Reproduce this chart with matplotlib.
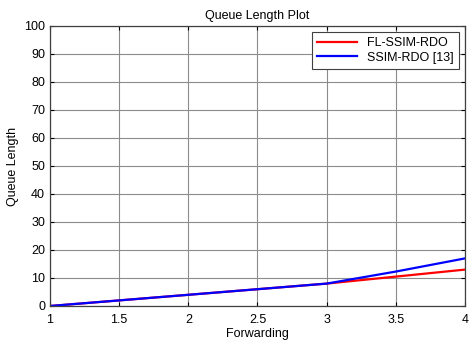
import matplotlib
matplotlib.use("Agg")
import matplotlib.pyplot as plt

# Data
forwarding = [1, 1.5, 2, 2.5, 3, 3.5, 4]
fl_ssim_rdo = [0, 2, 4, 6, 8, 10.5, 13]
ssim_rdo_13 = [0, 2, 4, 6, 8, 12.3, 17]

plt.rcParams['font.family'] = ['Liberation Sans', 'DejaVu Sans']

fig = plt.figure(figsize=(4.74, 3.45), dpi=100)
ax = fig.add_axes([50 / 474, 1 - 306 / 345, 415 / 474, 280 / 345])

ax.plot(forwarding, fl_ssim_rdo, color='#ff0000', lw=1.6, label='FL-SSIM-RDO')
ax.plot(forwarding, ssim_rdo_13, color='#0000ff', lw=1.6, label='SSIM-RDO [13]')

ax.set_xlim(1, 4)
ax.set_ylim(0, 100)
ax.set_xticks([1, 1.5, 2, 2.5, 3, 3.5, 4])
ax.set_xticklabels(['1', '1.5', '2', '2.5', '3', '3.5', '4'])
ax.set_yticks(range(0, 101, 10))
ax.grid(True, color='#8c8c8c', lw=0.8)
ax.tick_params(labelsize=9, length=3, direction='in', top=True, right=True)
ax.tick_params(axis='x', pad=6)
for s in ax.spines.values():
    s.set_color('#404040')
    s.set_linewidth(0.9)

ax.set_title('Queue Length Plot', fontsize=9, pad=5)
ax.set_xlabel('Forwarding', fontsize=9, labelpad=1)
ax.set_ylabel('Queue Length', fontsize=9, labelpad=4)

leg = ax.legend(loc='upper right', fontsize=9, fancybox=False, framealpha=1,
                edgecolor='#404040', handlelength=3.2, borderaxespad=0.5,
                labelspacing=0.2)
leg.get_frame().set_linewidth(0.8)

fig.savefig('out.png', dpi=100)
